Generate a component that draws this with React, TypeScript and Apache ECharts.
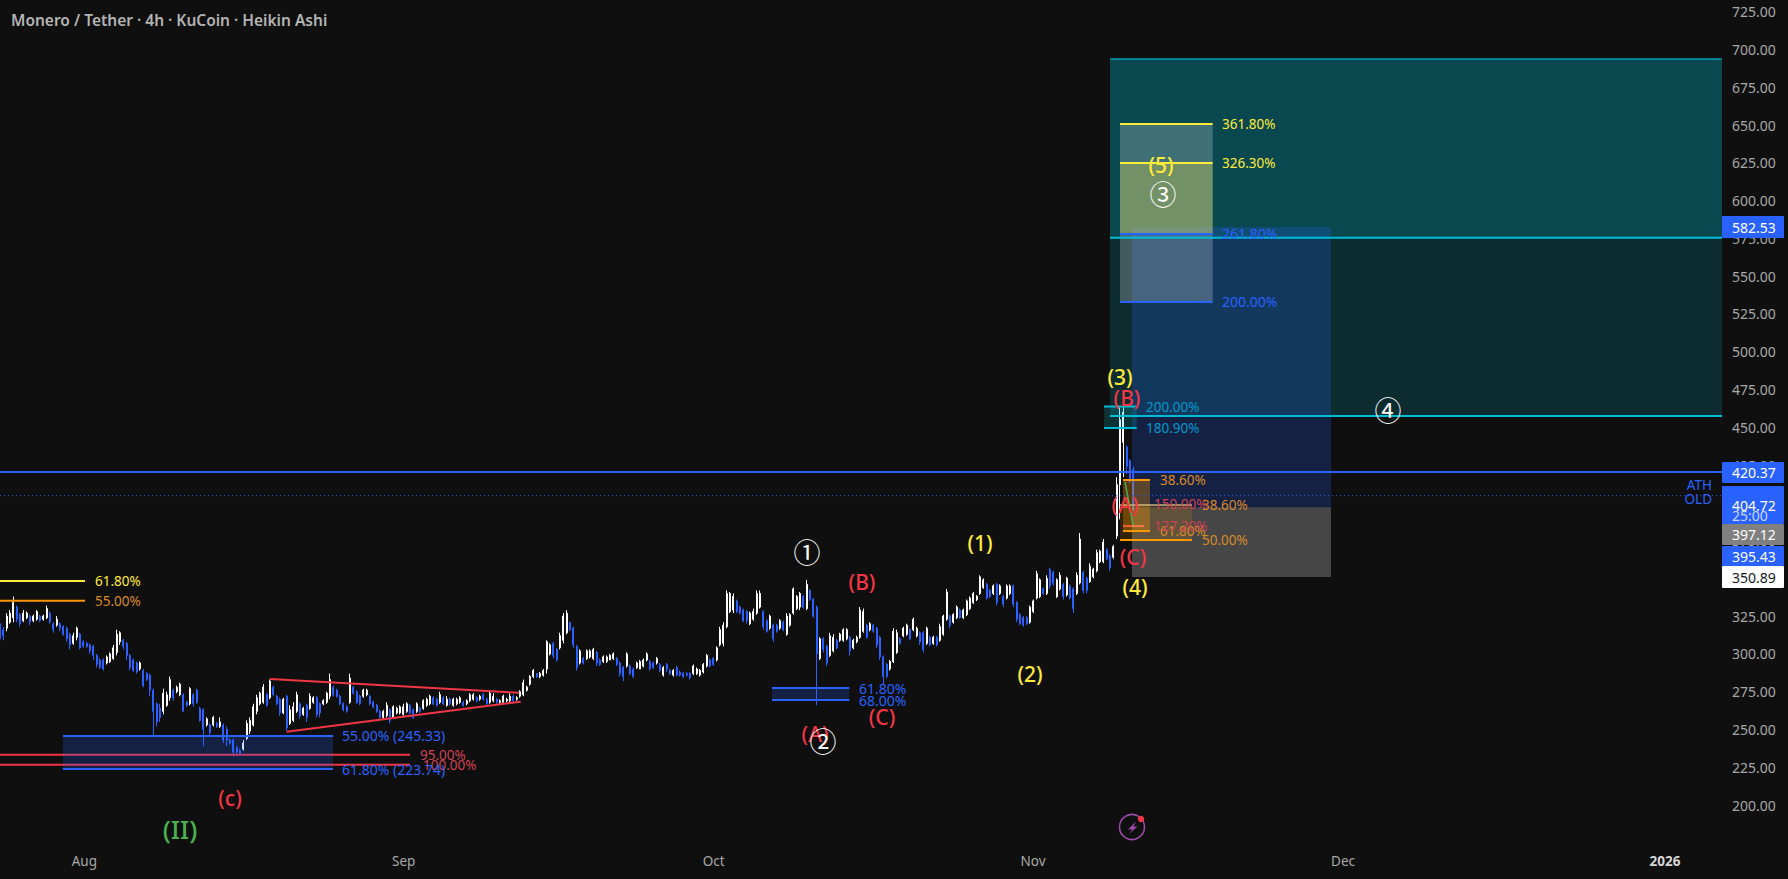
import React, { useEffect, useRef } from "react";
import * as echarts from "echarts";

// ---- Price bars, one entry per column: [open, close, low, high] ----
const barsJulAug = [
  [320,310,307,321],[316,312,309,318],[317,325,315,327],[321,327,320,329],[324,334,321,338],[331,323,321,332],[326,320,318,327],[322,327,321,329],
  [324,327,323,328],[325,321,319,326],[322,325,321,326],[323,328,322,329],[325,322,321,326],[323,325,322,326],[324,330,323,332],[327,321,320,328],
  [320,316,314,321],[319,323,318,325],[320,317,315,321],[318,313,312,319],[317,310,308,318],[313,306,303,314],[307,312,306,314],[311,317,309,318],
  [313,304,303,314],[308,305,304,309],[307,305,304,308],[306,302,300,307],[305,299,296,306],[299,293,291,300],[296,291,290,297],[296,290,289,297],
  [294,298,293,299],[295,300,294,301],[297,304,296,306],[301,313,299,316],[308,314,306,315],[309,305,303,310],[307,299,296,308],[299,291,289,300],
  [296,289,288,297],[294,288,287,295],[290,294,289,295],[289,279,278,290],[287,283,282,288],[286,276,272,287],[276,262,246,277],[267,255,252,268],
  [264,258,255,267],[262,274,260,277],[266,273,265,275],[271,283,269,285],[276,271,269,277],[275,278,274,279],[273,280,272,281],[273,262,262,274],
  [268,266,265,269],[267,277,266,278],[273,267,265,274],[276,268,267,277],[264,256,255,265],[263,250,239,264],[253,257,252,258],[253,248,246,254],
  [253,258,252,259],[254,252,251,255],[252,255,251,258],[253,243,241,254],[250,243,239,252],[243,241,240,244],[243,235,232,244],[238,235,234,239],
];
const barsAugSep = [
  [236,234,233,237],[237,241,236,243],[244,254,243,256],[249,256,247,258],[253,265,252,267],[262,271,260,273],[267,274,266,275],[268,278,267,280],
  [273,266,265,274],[271,282,270,283],[278,273,272,279],[272,267,266,273],[270,261,259,271],[261,270,260,271],[272,251,249,273],[254,263,253,266],
  [256,265,255,268],[262,273,261,275],[267,259,257,268],[260,264,259,265],[266,258,255,267],[264,272,263,274],[268,271,267,272],[271,260,258,272],
  [267,261,258,268],[267,269,266,270],[268,274,267,275],[272,283,270,287],[278,273,272,279],[276,272,271,277],[272,267,266,273],[267,263,262,268],
  [265,262,261,266],[268,284,267,287],[278,274,273,279],[275,268,267,276],[272,267,266,273],[272,276,271,277],[273,276,272,277],[272,267,266,273],
  [268,265,264,269],[266,262,261,267],[262,258,257,263],[258,262,257,263],[259,266,258,268],[263,256,254,264],[258,265,257,266],[261,264,260,265],
  [261,265,260,266],[260,265,259,267],[262,267,261,268],[266,261,260,267],[263,258,257,264],[262,267,261,268],[264,262,261,265],[264,269,263,270],
  [266,270,265,271],[267,272,266,273],[271,267,266,272],[270,266,265,271],[268,273,267,275],[271,267,266,272],[266,270,265,272],[270,267,266,271],
  [266,270,265,271],[267,270,266,271],[268,271,267,272],[268,266,265,269],[267,269,266,270],[269,273,268,274],[270,273,269,274],[271,269,268,272],
];
const barsSep = [
  [270,272,269,273],[273,270,269,274],[270,267,266,271],[268,274,267,275],[269,272,268,274],[270,268,267,271],[268,269,267,270],[268,272,268,273],
  [269,270,268,271],[269,272,268,274],[272,269,268,273],[270,271,269,272],[272,275,271,276],[273,281,272,283],[276,278,275,279],[280,285,279,286],
  [285,289,284,290],[287,285,284,287],[285,287,284,288],[286,289,285,290],[290,308,287,309],[300,306,299,307],[307,299,297,308],[303,296,295,304],
  [304,312,303,314],[309,325,307,327],[314,327,313,329],[321,316,315,321],[317,306,304,318],[305,291,289,306],[294,302,293,303],[297,294,293,298],
  [297,302,296,303],[298,302,297,303],[297,303,296,304],[301,294,292,302],[296,293,292,297],[295,298,294,299],[295,298,294,299],[296,299,296,300],
  [297,300,296,301],[297,293,292,298],[294,287,285,295],[291,285,282,292],[292,300,291,301],[292,287,286,293],[290,285,284,291],[291,294,290,295],
  [290,295,290,296],[292,296,291,297],[296,300,295,301],[295,290,289,296],[294,291,290,295],[294,297,293,298],[293,289,288,294],[286,291,285,292],
  [293,290,288,294],[289,287,286,290],[286,289,285,290],[291,286,285,292],[288,286,285,289],[287,285,284,288],[287,286,285,288],[287,284,283,288],
  [287,292,286,293],[287,290,286,291],[286,289,285,290],[288,293,287,294],[292,299,291,300],[296,292,291,297],[297,293,292,298],[296,304,295,305],
];
const barsOct = [
  [306,316,305,318],[307,319,305,321],[318,340,317,342],[328,340,327,341],[329,338,327,340],[335,328,327,336],[331,327,326,332],[329,322,321,330],
  [328,322,320,329],[320,327,319,328],[323,328,322,330],[327,340,326,342],[331,340,330,342],[328,318,316,329],[322,315,314,323],[317,325,316,326],
  [319,310,308,320],[319,315,314,320],[317,322,316,323],[321,316,315,322],[313,325,312,327],[319,326,318,327],[327,343,326,344],[330,338,329,339],
  [331,340,329,341],[338,331,330,339],[330,346,329,349],[342,336,335,343],[336,325,324,337],[331,300,266,332],[297,310,296,311],[310,303,301,311],
  [305,294,292,306],[299,312,298,314],[302,311,301,313],[309,304,303,310],[309,313,308,314],[309,316,308,317],[310,316,309,317],[311,302,299,312],
  [304,309,303,310],[308,311,307,312],[311,329,310,331],[315,328,314,330],[319,311,310,320],[316,320,315,321],[319,315,314,320],[317,306,304,318],
  [311,298,296,312],[298,285,280,299],[293,285,284,294],[290,295,289,296],[295,315,294,317],[301,314,300,316],[310,307,306,311],[312,317,311,318],
  [313,319,312,320],[316,310,309,317],[316,323,315,324],[312,317,311,318],[314,308,306,315],[314,303,301,315],[307,317,306,318],[311,306,305,312],
  [307,311,306,312],[311,306,305,312],[309,318,308,320],[313,325,312,326],[323,341,322,343],[325,319,317,326],[321,326,320,327],[324,331,323,332],
];
const barsNov = [
  [329,324,323,330],[324,329,323,330],[326,335,325,336],[330,337,329,338],[334,340,333,341],[336,338,335,339],[340,351,339,352],[344,349,343,350],
  [346,337,336,347],[342,338,337,343],[340,345,339,346],[346,334,332,347],[340,345,339,346],[338,333,331,339],[337,345,336,346],[340,345,339,346],
  [345,333,331,346],[334,323,321,335],[326,320,319,327],[324,319,318,325],[324,320,319,325],[321,331,320,332],[328,335,327,336],[337,353,336,355],
  [338,349,337,350],[343,340,339,344],[340,350,339,352],[356,345,343,357],[354,347,345,355],[338,349,337,350],[343,352,342,354],[346,338,336,347],
  [339,350,338,351],[345,337,336,346],[343,330,327,344],[340,352,339,354],[347,376,346,380],[354,342,340,355],[350,342,340,351],[348,358,347,360],
  [351,356,350,357],[355,367,354,369],[361,368,360,369],[361,374,360,376],[369,363,362,370],[365,357,355,366],[364,371,363,372],[378,412,376,417],
  [412,455,389,463],[440,460,417,464],[437,424,419,438],[428,416,413,429],[422,396,395,424],
];
const allBars = [...barsJulAug, ...barsAugSep, ...barsSep, ...barsOct, ...barsNov];

// ---- Axis ticks ----
const monthTicks = [25.3, 121.1, 214.1, 309.9, 402.9, 499.5];
const monthLabels = ["Aug", "Sep", "Oct", "Nov", "Dec", "2026"];

// ---- Price zones: [fromColumn, toColumn, priceA, priceB] ----
const tealUpperZone = [[333, 516.6, 693.7, 575.4]];
const tealLowerZone = [[333, 516.6, 575.4, 457.4]];
const blueTargetZone = [[339.6, 399.3, 582.53, 397.12]];
const grayStopZone = [[339.6, 399.3, 397.12, 350.89]];
const paleFibZone = [[336, 363.8, 650.7, 532.9]];
const yellowFibZone = [[336, 363.8, 624.9, 577.9]];
const tealSmallZone = [[331.2, 341, 463.7, 449.5]];
const orangeUpperZone = [[336.9, 345, 415.1, 381.3]];
const orangeLowerZone = [[336, 357.6, 398.5, 375.4]];
const blueSupportZones = [[18.9, 99.9, 245.7, 223.8], [231.6, 254.8, 277.4, 269.5]];

// ---- Lines: [columnA, priceA, columnB, priceB] ----
const cyanLines = [[333,575.4,516.6,575.4],[333,457.4,516.6,457.4],[331.2,463.7,341,463.7],[331.2,449.5,341,449.5]];
const cyanTopLine = [[333,693.7,516.6,693.7]];
const yellowLines = [[336,650.7,363.8,650.7],[336,624.9,363.8,624.9],[0,348.2,25.5,348.2]];
const blueLines = [[336,577.9,363.8,577.9],[336,532.9,363.8,532.9],[18.9,245.7,99.9,245.7],[18.9,223.8,99.9,223.8],[231.6,277.4,254.8,277.4],[231.6,269.5,254.8,269.5]];
const athLine = [[0,420.37,516.6,420.37]];
const oldAthLine = [[0,404.72,516.6,404.72]];
const orangeLines = [[0,335.2,25.5,335.2],[336.9,415.1,345,415.1],[336.9,381.3,345,381.3],[336,375.4,357.6,375.4]];
const tanLines = [[336,398.5,357.6,398.5]];
const redLevelLines = [[0,233.3,123,233.3],[0,226.7,123,226.7],[336.9,384.6,343.2,384.6]];
const triangleLines = [[81,283.4,155.7,274.3],[86,248.5,156.2,268.4]];
const greenLines = [[337.5,413.8,339.9,385.3]];

// ---- Labels: [column, price, text] ----
const yellowWaves = [[294,373.4,"(1)"],[309,286.7,"(2)"],[336,483.3,"(3)"],[340.5,344.3,"(4)"],[348.3,623.6,"(5)"]];
const redWaves = [[69,204.6,"(c)"],[258.6,347.6,"(B)"],[264.6,258.2,"(C)"],[244.5,247,"(A)"],[338.1,469.4,"(B)"],[337.5,398.5,"(A)"],[339.9,364.1,"(C)"]];
const greenWaves = [[54,184.1,"(II)"]];
const whiteWaves = [[242.1,368.1,"①"],[246.9,243,"②"],[348.9,605,"③"],[416.4,461.8,"④"]];
const cyanPct = [[343.8,463.7,"200.00%"],[343.8,449.5,"180.90%"]];
const orangePct = [[348,415.1,"38.60%"],[348,381.3,"61.80%"],[360.6,398.5,"38.60%"],[360.6,375.4,"50.00%"],[28.5,335.2,"55.00%"]];
const redPct = [[346.2,399.2,"150.00%"],[346.2,384.6,"127.20%"],[126,233.3,"95.00%"],[126.9,226.7,"100.00%"]];
const yellowPct = [[366.6,650.7,"361.80%"],[366.6,624.9,"326.30%"],[28.5,348.2,"61.80%"]];
const bluePct = [[366.6,577.9,"261.80%"],[366.6,532.9,"200.00%"],[102.6,245.7,"55.00% (245.33)"],[102.6,223.8,"61.80% (223.74)"],[257.7,277.4,"61.80%"],[257.7,269.5,"68.00%"]];
const athLabels = [[513.6,411.8,"ATH"],[513.6,402.5,"OLD"]];

// ---- Price tags on the right scale ----
const tagTexts = ["582.53", "420.37", "404.72", "25:00", "397.12", "395.43", "350.89"];

const titleText = "Monero / Tether · 4h · KuCoin · Heikin Ashi";
const FONT = "'Noto Sans', sans-serif";
const BLUE = "#2962ff";

function zoneSeries(list: number[][], fill: string, z: number) {
  return {
    type: "custom", z, clip: false, silent: true,
    encode: { x: 0, y: 1 },
    data: list.map((d) => [d[0], d[2]]),
    renderItem: (p: any, api: any) => {
      const d = list[p.dataIndex];
      const a = api.coord([d[0], d[2]]);
      const b = api.coord([d[1], d[3]]);
      return { type: "rect", shape: { x: a[0], y: a[1], width: b[0] - a[0], height: b[1] - a[1] }, style: { fill } };
    },
  };
}
function lineSeries(list: number[][], stroke: string, lineWidth: number, z: number, lineDash?: number[]) {
  return {
    type: "custom", z, clip: false, silent: true,
    encode: { x: 0, y: 1 },
    data: list.map((d) => [d[0], d[1]]),
    renderItem: (p: any, api: any) => {
      const d = list[p.dataIndex];
      const a = api.coord([d[0], d[1]]);
      const b = api.coord([d[2], d[3]]);
      return { type: "line", shape: { x1: a[0], y1: a[1], x2: b[0], y2: b[1] }, style: { stroke, lineWidth, lineDash, fill: "none" } };
    },
  };
}
function textSeries(list: any[][], fill: string, size: number, align: string, z: number, family = FONT, weight = "normal") {
  return {
    type: "custom", z, clip: false, silent: true,
    encode: { x: 0, y: 1 },
    data: list.map((d) => [d[0], d[1]]),
    renderItem: (p: any, api: any) => {
      const d = list[p.dataIndex];
      const a = api.coord([d[0], d[1]]);
      return { type: "text", x: a[0], y: a[1], style: { text: d[2], fill, font: `${weight} ${size}px ${family}`, textAlign: align, textVerticalAlign: "middle" } };
    },
  };
}

function tag(top: number, height: number, fill: string, text: string, color: string) {
  return [
    { type: "rect", z: 200, shape: { x: 1722, y: top, width: 62, height, r: 1 }, style: { fill } },
    { type: "text", z: 201, x: 1732, y: top + height / 2, style: { text, fill: color, font: `14px ${FONT}`, textAlign: "left", textVerticalAlign: "middle" } },
  ];
}

export default function App() {
  const ref = useRef<HTMLDivElement>(null);
  useEffect(() => {
    document.body.style.margin = "0";
    document.body.style.background = "#0f0f0f";
    const chart = echarts.init(ref.current!, null, { renderer: "svg" });
    const circledFont = "'Noto Sans CJK SC', sans-serif";
    chart.setOption({
      animation: false,
      backgroundColor: "#0f0f0f",
      grid: { left: 0, width: 1722, top: 11.7, height: 831.1 },
      xAxis: {
        type: "value", min: 0, max: 516.6, splitLine: { show: false },
        axisLine: { show: false }, axisTick: { show: false },
        axisLabel: {
          customValues: monthTicks, margin: 11, color: "#a8a8a8", fontFamily: FONT, fontSize: 13.5,
          hideOverlap: false, showMinLabel: true, showMaxLabel: true,
          formatter: (v: number) => {
            const i = monthTicks.indexOf(v);
            const s = monthLabels[i] ?? "";
            return s === "2026" ? `{y|${s}}` : s;
          },
          rich: { y: { color: "#d6d6d6", fontWeight: 700, fontFamily: FONT, fontSize: 13.5 } },
        },
      },
      yAxis: {
        type: "value", position: "right", min: 175, max: 725, interval: 25, scale: true,
        splitLine: { show: false }, axisLine: { show: false }, axisTick: { show: false },
        axisLabel: {
          margin: 10, color: "#a8a8a8", fontFamily: FONT, fontSize: 14,
          formatter: (v: number) => (v === 175 ? "" : v.toFixed(2)),
        },
      },
      series: [
        {
          type: "candlestick", z: 2, barWidth: 1.4, silent: true,
          encode: { x: 0, y: [1, 2, 3, 4] },
          data: allBars.map((b, i) => [i, b[0], b[1], b[2], b[3]]),
          itemStyle: { color: "#ffffff", color0: BLUE, borderColor: "#ffffff", borderColor0: BLUE, borderWidth: 1 },
        },
        lineSeries(redLevelLines, "#f23645", 2, 3),
        zoneSeries(tealLowerZone, "rgba(0,188,212,0.17)", 4),
        zoneSeries(tealUpperZone, "rgba(0,188,212,0.33)", 4),
        zoneSeries(blueTargetZone, "rgba(41,98,255,0.22)", 4),
        zoneSeries(grayStopZone, "rgba(255,255,255,0.23)", 4),
        zoneSeries(tealSmallZone, "rgba(0,188,212,0.2)", 4),
        zoneSeries(orangeUpperZone, "rgba(255,152,0,0.3)", 4),
        zoneSeries(orangeLowerZone, "rgba(255,152,0,0.15)", 4),
        zoneSeries(blueSupportZones, "rgba(41,98,255,0.22)", 4),
        zoneSeries(paleFibZone, "rgba(255,255,255,0.22)", 5),
        zoneSeries(yellowFibZone, "rgba(255,235,59,0.27)", 5),
        lineSeries(cyanLines, "#00bcd4", 2, 6),
        lineSeries(cyanTopLine, "#00a3b5", 1.5, 6),
        lineSeries(yellowLines, "#ffeb3b", 2, 6),
        lineSeries(blueLines, BLUE, 2, 6),
        lineSeries(athLine, BLUE, 2, 6),
        lineSeries(oldAthLine, BLUE, 1, 6, [1, 3]),
        lineSeries(orangeLines, "#ff9800", 2, 6),
        lineSeries(tanLines, "rgba(214,186,120,0.7)", 2, 6),
        lineSeries(triangleLines, "#f23645", 2, 6),
        lineSeries(greenLines, "#4caf50", 1.5, 6),
        textSeries(cyanPct, "#0099cc", 13.5, "left", 7),
        textSeries(orangePct, "#d98a2b", 13.5, "left", 7),
        textSeries(redPct, "#cf4354", 13.5, "left", 7),
        textSeries(yellowPct, "#ffeb3b", 13.5, "left", 7),
        textSeries(bluePct, BLUE, 14, "left", 7),
        textSeries(athLabels, BLUE, 13.5, "right", 7),
        textSeries(yellowWaves, "#ffeb3b", 21, "center", 8, FONT, "500"),
        textSeries(redWaves, "#f23645", 21, "center", 8, FONT, "500"),
        textSeries(greenWaves, "#4caf50", 26, "center", 8, FONT, "500"),
        textSeries(whiteWaves, "#ffffff", 27, "center", 9, circledFont),
      ],
      graphic: [
        { type: "text", z: 100, x: 11, y: 20, style: { text: titleText, fill: "#b4b4b4", font: `600 15.5px ${FONT}`, textVerticalAlign: "middle" } },
        ...tag(216, 22, BLUE, tagTexts[0], "#ffffff"),
        ...tag(462, 21, BLUE, tagTexts[1], "#ffffff"),
        ...tag(486, 38, BLUE, tagTexts[2], "#ffffff"),
        { type: "text", z: 201, x: 1732, y: 515, style: { text: tagTexts[3], fill: "#c9d6ff", font: `14px ${FONT}`, textVerticalAlign: "middle" } },
        ...tag(524, 21, "#808080", tagTexts[4], "#ffffff"),
        ...tag(546, 20, BLUE, tagTexts[5], "#ffffff"),
        ...tag(566, 22, "#ffffff", tagTexts[6], "#131722"),
        { type: "circle", z: 100, shape: { cx: 1132, cy: 827, r: 12.5 }, style: { fill: "none", stroke: "#9c4dac", lineWidth: 1.5 } },
        { type: "polygon", z: 100, shape: { points: [[1136, 821.5], [1128, 829.5], [1132.5, 829.5], [1128.5, 834.5], [1137.5, 826.5], [1133.5, 826.5]] }, style: { fill: "#9c4dac" } },
        { type: "circle", z: 101, shape: { cx: 1141, cy: 819, r: 3.2 }, style: { fill: "#f23645" } },
      ],
    });
    return () => chart.dispose();
  }, []);
  return <div ref={ref} style={{ position: "fixed", left: 0, top: 0, width: 1788, height: 879 }} />;
}
